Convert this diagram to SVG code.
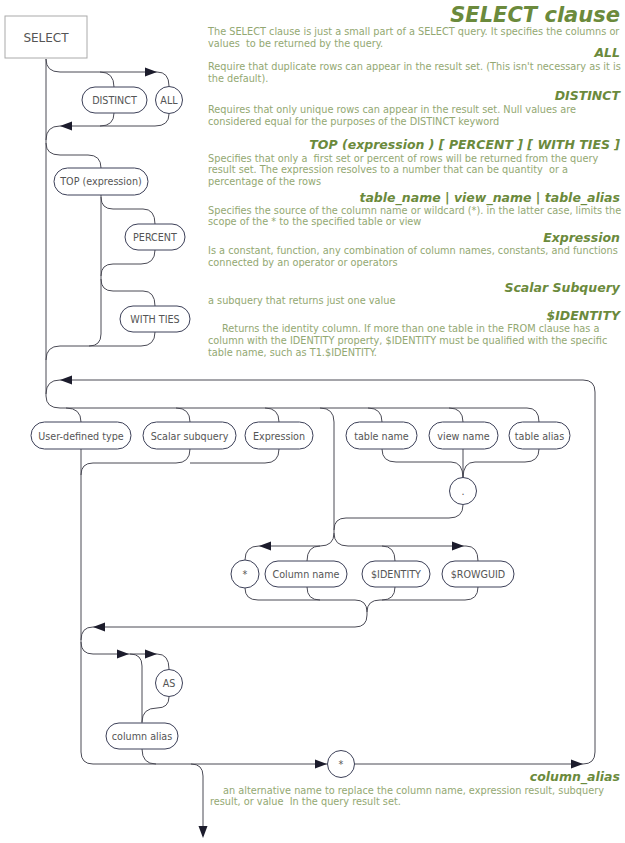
<svg xmlns="http://www.w3.org/2000/svg" xmlns:xlink="http://www.w3.org/1999/xlink" width="625" height="843" viewBox="0 0 625 843">
<style>
.c{fill:none;stroke:#4a4a55;stroke-width:1}
.n{fill:#fff;stroke:#3c4058;stroke-width:1}
.t{font-family:"DejaVu Sans",Verdana,sans-serif;font-size:9.6px;fill:#555;text-anchor:middle}
.h{font-family:"DejaVu Sans",Verdana,sans-serif;font-weight:bold;font-style:italic;font-size:12.5px;fill:#6b8a3c;text-anchor:end}
.b{font-family:"DejaVu Sans",Verdana,sans-serif;font-size:9.75px;fill:#93a872;white-space:pre}
</style>
<defs>
<path id="ah" d="M0,0 L-12,-4.5 L-12,4.5 Z" fill="#1c1c2c"/>
</defs>
<rect width="625" height="843" fill="#fff"/>
<g id="connectors">
<path class="c" d="M46,59 V396 Q46,408 60,408 H527 Q539,408 539,422"/>
<path class="c" d="M46,59 Q46,72 60,72 H157 Q169,72 169,86"/>
<path class="c" d="M100,72 Q114,72 114,87"/>
<path class="c" d="M169,114 Q169,126 155,126 H60 Q46,126 46,140"/>
<path class="c" d="M114,113 Q114,126 100,126"/>
<path class="c" d="M46,143 Q46,155 60,155 H88 Q101,155 101,168"/>
<path class="c" d="M101,195 V334 Q101,346 89,346"/>
<path class="c" d="M155,332 Q155,346 141,346 H60 Q46,346 46,360"/>
<path class="c" d="M101,197 Q101,209 113,209 H143 Q155,209 155,224"/>
<path class="c" d="M155,250 Q155,264 141,264 H113 Q101,264 101,276"/>
<path class="c" d="M101,279 Q101,291 113,291 H143 Q155,291 155,306"/>
<path class="c" d="M66,408 Q81,408 81,422"/>
<path class="c" d="M176,408 Q190,408 190,422"/>
<path class="c" d="M265,408 Q279,408 279,422"/>
<path class="c" d="M320,408 Q334,408 334,422 V533"/>
<path class="c" d="M368,408 Q382,408 382,422"/>
<path class="c" d="M449,408 Q463,408 463,422"/>
<path class="c" d="M81,449 V752 Q81,764 93,764 H583 Q595,764 595,752 V392 Q595,380 583,380 H60 Q46,380 46,394"/>
<path class="c" d="M190,449 Q190,463 176,463 H93 Q81,463 81,475"/>
<path class="c" d="M279,449 Q279,463 265,463 H190"/>
<path class="c" d="M382,449 Q382,462 396,462 H451 Q463,462 463,478"/>
<path class="c" d="M463,449 V478"/>
<path class="c" d="M539,449 Q539,462 525,462 H475 Q463,462 463,478"/>
<path class="c" d="M463,505 Q463,518 449,518 H346 Q334,518 334,530"/>
<path class="c" d="M334,533 Q334,546 320,546 H259 Q245,546 245,560"/>
<path class="c" d="M320,546 Q307,546 307,561"/>
<path class="c" d="M334,533 Q334,546 348,546 H466 Q478,546 478,561"/>
<path class="c" d="M382,546 Q395,546 395,561"/>
<path class="c" d="M245,588 Q245,600 258,600 H355 Q367,600 367,612"/>
<path class="c" d="M307,587 Q307,600 320,600"/>
<path class="c" d="M478,587 Q478,600 465,600 H380 Q367,600 367,612"/>
<path class="c" d="M395,587 Q395,600 382,600"/>
<path class="c" d="M367,612 V615 Q367,627 355,627 H93 Q81,627 81,640"/>
<path class="c" d="M81,642 Q81,654 93,654 H157 Q169,654 169,669"/>
<path class="c" d="M130,654 Q142,654 142,666 V723"/>
<path class="c" d="M169,697 Q169,708 157,708 Q142,708 142,722"/>
<path class="c" d="M142,749 Q142,764 156,764"/>
<path class="c" d="M191,764 Q203,764 203,776 V836"/>
<use xlink:href="#ah" transform="translate(157,72)"/>
<use xlink:href="#ah" transform="translate(60,126) rotate(180)"/>
<use xlink:href="#ah" transform="translate(60,380) rotate(180)"/>
<use xlink:href="#ah" transform="translate(259,546) rotate(180)"/>
<use xlink:href="#ah" transform="translate(464,546)"/>
<use xlink:href="#ah" transform="translate(93,627) rotate(180)"/>
<use xlink:href="#ah" transform="translate(129,654)"/>
<use xlink:href="#ah" transform="translate(157,654)"/>
<use xlink:href="#ah" transform="translate(327,764)"/>
<use xlink:href="#ah" transform="translate(583,764)"/>
<use xlink:href="#ah" transform="translate(203,838) rotate(90)"/>
</g>
<g id="select"><rect x="5" y="16" width="82" height="42" fill="#fff" stroke="#aaa"/><text class="t" x="46" y="42" style="font-size:12px">SELECT</text></g>
<g id="distinct"><rect class="n" x="82" y="87" width="65" height="26" rx="13"/><text class="t" x="114.5" y="103.5">DISTINCT</text></g>
<g id="all"><circle class="n" cx="169" cy="100" r="13.5"/><text class="t" x="169" y="103.5">ALL</text></g>
<g id="top"><rect class="n" x="54" y="168" width="94" height="27" rx="13.5"/><text class="t" x="101" y="185">TOP (expression)</text></g>
<g id="percent"><rect class="n" x="125" y="224" width="60" height="26" rx="13"/><text class="t" x="155" y="240.5">PERCENT</text></g>
<g id="withties"><rect class="n" x="120" y="306" width="70" height="26" rx="13"/><text class="t" x="155" y="322.5">WITH TIES</text></g>
<g id="udt"><rect class="n" x="31" y="422" width="100" height="27" rx="13.5"/><text class="t" x="81" y="439.5">User-defined type</text></g>
<g id="scalar"><rect class="n" x="143" y="422" width="93" height="27" rx="13.5"/><text class="t" x="189.5" y="439.5">Scalar subquery</text></g>
<g id="expression"><rect class="n" x="245" y="422" width="68" height="27" rx="13.5"/><text class="t" x="279" y="439.5">Expression</text></g>
<g id="tablename"><rect class="n" x="346" y="422" width="71" height="27" rx="13.5"/><text class="t" x="381.5" y="439.5">table name</text></g>
<g id="viewname"><rect class="n" x="429" y="422" width="69" height="27" rx="13.5"/><text class="t" x="463.5" y="439.5">view name</text></g>
<g id="tablealias"><rect class="n" x="509" y="422" width="61" height="27" rx="13.5"/><text class="t" x="539.5" y="439.5">table alias</text></g>
<g id="dot"><circle class="n" cx="463" cy="491" r="13.5"/><text class="t" x="463" y="494.5">.</text></g>
<g id="star1"><circle class="n" cx="245" cy="574" r="14"/><text class="t" x="245" y="577.5">*</text></g>
<g id="colname"><rect class="n" x="265" y="561" width="82" height="26" rx="13"/><text class="t" x="306" y="577.5">Column name</text></g>
<g id="identity"><rect class="n" x="362" y="561" width="68" height="26" rx="13"/><text class="t" x="396" y="577.5">$IDENTITY</text></g>
<g id="rowguid"><rect class="n" x="442" y="561" width="72" height="26" rx="13"/><text class="t" x="478" y="577.5">$ROWGUID</text></g>
<g id="as"><circle class="n" cx="169" cy="683" r="13.5"/><text class="t" x="169" y="686.5">AS</text></g>
<g id="colalias"><rect class="n" x="106" y="723" width="72" height="26" rx="13"/><text class="t" x="142" y="739.5">column alias</text></g>
<g id="star2"><circle class="n" cx="341" cy="764" r="13.5"/><text class="t" x="341" y="767.5">*</text></g>
<g id="notes">
<text class="h" x="620" y="22" style="font-size:21px">SELECT clause</text>
<text class="b" x="208" y="35">The SELECT clause is just a small part of a SELECT query. It specifies the columns or</text>
<text class="b" x="208" y="47">values  to be returned by the query.</text>
<text class="h" x="620" y="57">ALL</text>
<text class="b" x="208" y="70">Require that duplicate rows can appear in the result set. (This isn't necessary as it is</text>
<text class="b" x="208" y="82">the default).</text>
<text class="h" x="620" y="100">DISTINCT</text>
<text class="b" x="208" y="113">Requires that only unique rows can appear in the result set. Null values are</text>
<text class="b" x="208" y="125">considered equal for the purposes of the DISTINCT keyword</text>
<text class="h" x="620" y="149">TOP (expression ) [ PERCENT ] [ WITH TIES ]</text>
<text class="b" x="208" y="162">Specifies that only a  first set or percent of rows will be returned from the query</text>
<text class="b" x="208" y="173">result set. The expression resolves to a number that can be quantity  or a</text>
<text class="b" x="208" y="185">percentage of the rows</text>
<text class="h" x="620" y="202">table_name | view_name | table_alias</text>
<text class="b" x="208" y="214">Specifies the source of the column name or wildcard (*). in the latter case, limits the</text>
<text class="b" x="208" y="225">scope of the * to the specified table or view</text>
<text class="h" x="620" y="242">Expression</text>
<text class="b" x="208" y="254">Is a constant, function, any combination of column names, constants, and functions</text>
<text class="b" x="208" y="266">connected by an operator or operators</text>
<text class="h" x="620" y="292">Scalar Subquery</text>
<text class="b" x="208" y="304">a subquery that returns just one value</text>
<text class="h" x="620" y="320">$IDENTITY</text>
<text class="b" x="222" y="332">Returns the identity column. If more than one table in the FROM clause has a</text>
<text class="b" x="208" y="344">column with the IDENTITY property, $IDENTITY must be qualified with the specific</text>
<text class="b" x="208" y="356">table name, such as T1.$IDENTITY.</text>
<text class="h" x="620" y="781">column_alias</text>
<text class="b" x="223" y="794">an alternative name to replace the column name, expression result, subquery</text>
<text class="b" x="210" y="805">result, or value  In the query result set.</text>
</g>
</svg>
